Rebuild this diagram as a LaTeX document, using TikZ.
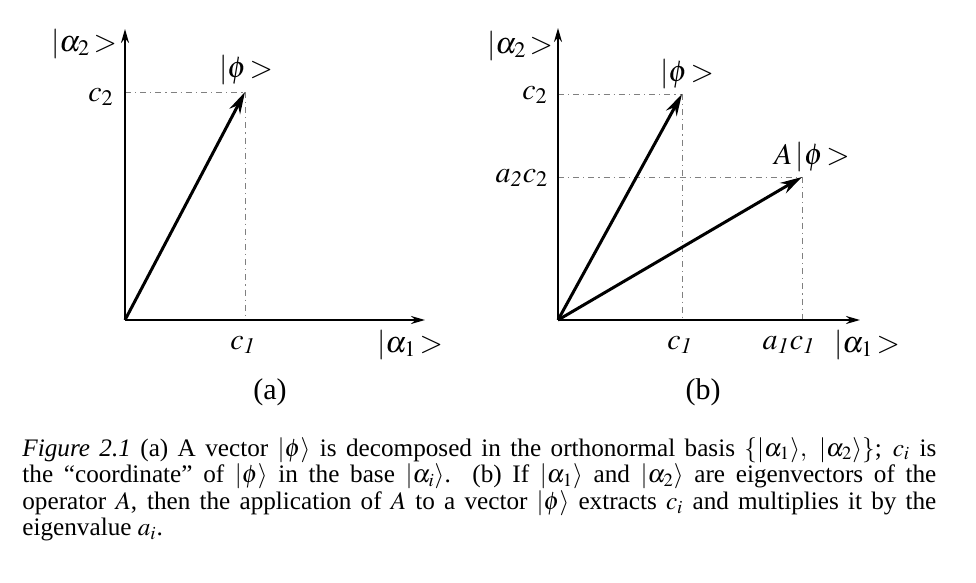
\documentclass[tikz,border=0pt]{standalone}
\usepackage{mathptmx}
\usepackage{fontspec}
\setmainfont{Liberation Serif}
\usetikzlibrary{arrows.meta}

\def\ket#1{|#1\!>}

\begin{document}
\begin{tikzpicture}[x=0.5pt, y=-0.5pt, >=Stealth,
    axis/.style={line width=1pt, -{Stealth[length=7pt, width=4pt]}},
    vec/.style={line width=1.5pt, -{Stealth[length=11pt, width=6pt]}},
    guide/.style={thin, gray, dash pattern=on 3pt off 2pt on 0.6pt off 2pt},
    lbl/.style={font=\fontsize{15}{17}\selectfont, inner sep=0pt}]
        \useasboundingbox (0,0) rectangle (976,583);

        % panel (a)
        \coordinate (oa) at (125,320);
        \coordinate (xa) at (425,320);
        \coordinate (ya) at (125,29);
        \coordinate (pa) at (245,92);
        \coordinate (c2a) at (125,92);
        \coordinate (c1a) at (245,320);
        \draw[guide] (c2a) -- (pa);
        \draw[guide] (pa) -- (c1a);
        \draw[axis] (oa) -- (xa);
        \draw[axis] (oa) -- (ya);
        \draw[vec] (oa) -- (pa);
        \node[lbl] (a2a) at (84,44) {$\ket{\alpha_2}$};
        \node[lbl] (phia) at (246,70) {$\ket{\phi}$};
        \node[lbl] (lc2a) at (101,97) {$c_2$};
        \node[lbl] (lc1a) at (243,345) {$c_{\mathit{1}}$};
        \node[lbl] (a1a) at (410,345) {$\ket{\alpha_1}$};
        \node[lbl] (capa) at (270,392) {(a)};

        % panel (b)
        \coordinate (ob) at (558,320);
        \coordinate (xb) at (860,320);
        \coordinate (yb) at (558,28);
        \coordinate (pb) at (682,94);
        \coordinate (qb) at (802,177);
        \draw[guide] (ob |- pb) -- (pb);
        \draw[guide] (pb) -- (pb |- ob);
        \draw[guide] (ob |- qb) -- (qb);
        \draw[guide] (qb) -- (qb |- ob);
        \draw[axis] (ob) -- (xb);
        \draw[axis] (ob) -- (yb);
        \draw[vec] (ob) -- (pb);
        \draw[vec] (ob) -- (qb);
        \node[lbl] (a2b) at (520,46) {$\ket{\alpha_2}$};
        \node[lbl] (phib) at (687,74) {$\ket{\phi}$};
        \node[lbl] (lc2b) at (535,95) {$c_2$};
        \node[lbl] (la2c2b) at (522,178) {$a_{\mathit{2}}c_2$};
        \node[lbl] (aphib) at (812,157) {$A\,\ket{\phi}$};
        \node[lbl] (lc1b) at (680,345) {$c_{\mathit{1}}$};
        \node[lbl] (la1c1b) at (789,345) {$a_{\mathit{1}}c_{\mathit{1}}$};
        \node[lbl] (a1b) at (867,345) {$\ket{\alpha_1}$};
        \node[lbl] (capb) at (703,392) {(b)};

        % caption
        \node[anchor=north west, inner sep=0pt, text width=457pt, align=justify,
              font=\fontsize{12.6}{13.3}\selectfont] (cap) at (22,437)
        {\textit{Figure 2.1} (a) A vector $|\phi\rangle$ is decomposed in the orthonormal
         basis $\{|\alpha_1\rangle,\ |\alpha_2\rangle\}$; $c_i$ is\linebreak the ``coordinate''
         of $|\phi\rangle$ in the base $|\alpha_i\rangle$. (b) If $|\alpha_1\rangle$ and
         $|\alpha_2\rangle$ are eigenvectors of the\linebreak operator $A$, then the application
         of $A$ to a vector $|\phi\rangle$ extracts $c_i$ and multiplies it by the\linebreak
         eigenvalue $a_i$.};
      \end{tikzpicture}
\end{document}
